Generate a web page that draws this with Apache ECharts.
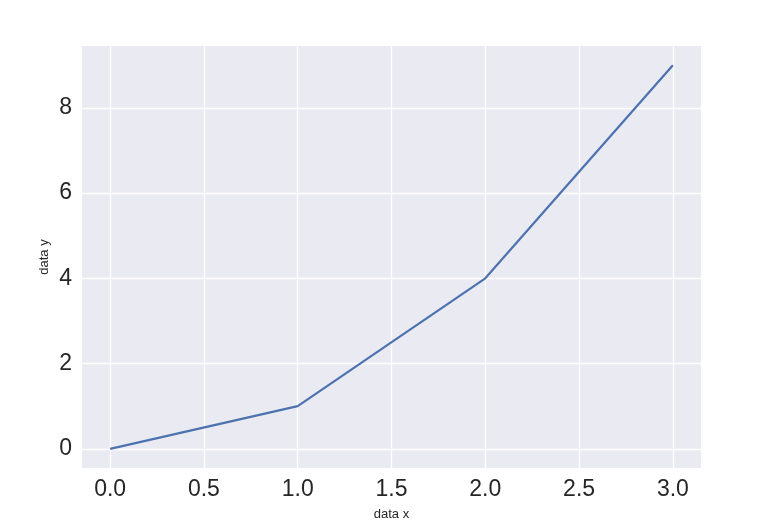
<!DOCTYPE html>
<html>
<head>
<meta charset="utf-8">
<script src="https://cdn.jsdelivr.net/npm/echarts@6/dist/echarts.min.js"></script>
<style>
html,body{margin:0;padding:0;background:#fff;}
#chart{width:759px;height:525px;}
</style>
</head>
<body>
<div id="chart"></div>
<script>
const xValues = [0, 1, 2, 3];
const yValues = [0, 1, 4, 9];
const xTicks = [0, 0.5, 1, 1.5, 2, 2.5, 3];
const yTicks = [0, 2, 4, 6, 8];

const chart = echarts.init(document.getElementById('chart'), null, {renderer: 'canvas'});
const font = "'Liberation Sans', Arial, sans-serif";
chart.setOption({
  animation: false,
  grid: {left: 82, right: 58, top: 46, bottom: 57, show: true, backgroundColor: '#EAEAF2', borderWidth: 0,
         containLabel: false, outerBoundsMode: 'none'},
  xAxis: {
    type: 'value', min: -0.15, max: 3.15,
    name: 'data x', nameLocation: 'middle', nameGap: 40,
    nameTextStyle: {fontFamily: font, fontSize: 13, color: '#262626'},
    axisLine: {show: false},
    axisTick: {show: false, customValues: xTicks},
    axisLabel: {customValues: xTicks, formatter: v => v.toFixed(1), fontFamily: font, fontSize: 23, color: '#262626', margin: 10},
    splitLine: {show: true, lineStyle: {color: '#ffffff', width: 1.3}}
  },
  yAxis: {
    type: 'value', min: -0.45, max: 9.45,
    name: 'data y', nameLocation: 'middle', nameGap: 31, nameRotate: 90, nameMoveOverlap: false,
    nameTextStyle: {fontFamily: font, fontSize: 13, color: '#262626'},
    axisLine: {show: false},
    axisTick: {show: false, customValues: yTicks},
    axisLabel: {customValues: yTicks, formatter: v => String(v), fontFamily: font, fontSize: 23, color: '#262626', margin: 10},
    splitLine: {show: true, lineStyle: {color: '#ffffff', width: 1.3}}
  },
  series: [{
    type: 'line',
    data: xValues.map((x, i) => [x, yValues[i]]),
    symbol: 'none',
    lineStyle: {color: '#4C72B0', width: 2.2},
    itemStyle: {color: '#4C72B0'}
  }]
});
</script>
</body>
</html>
